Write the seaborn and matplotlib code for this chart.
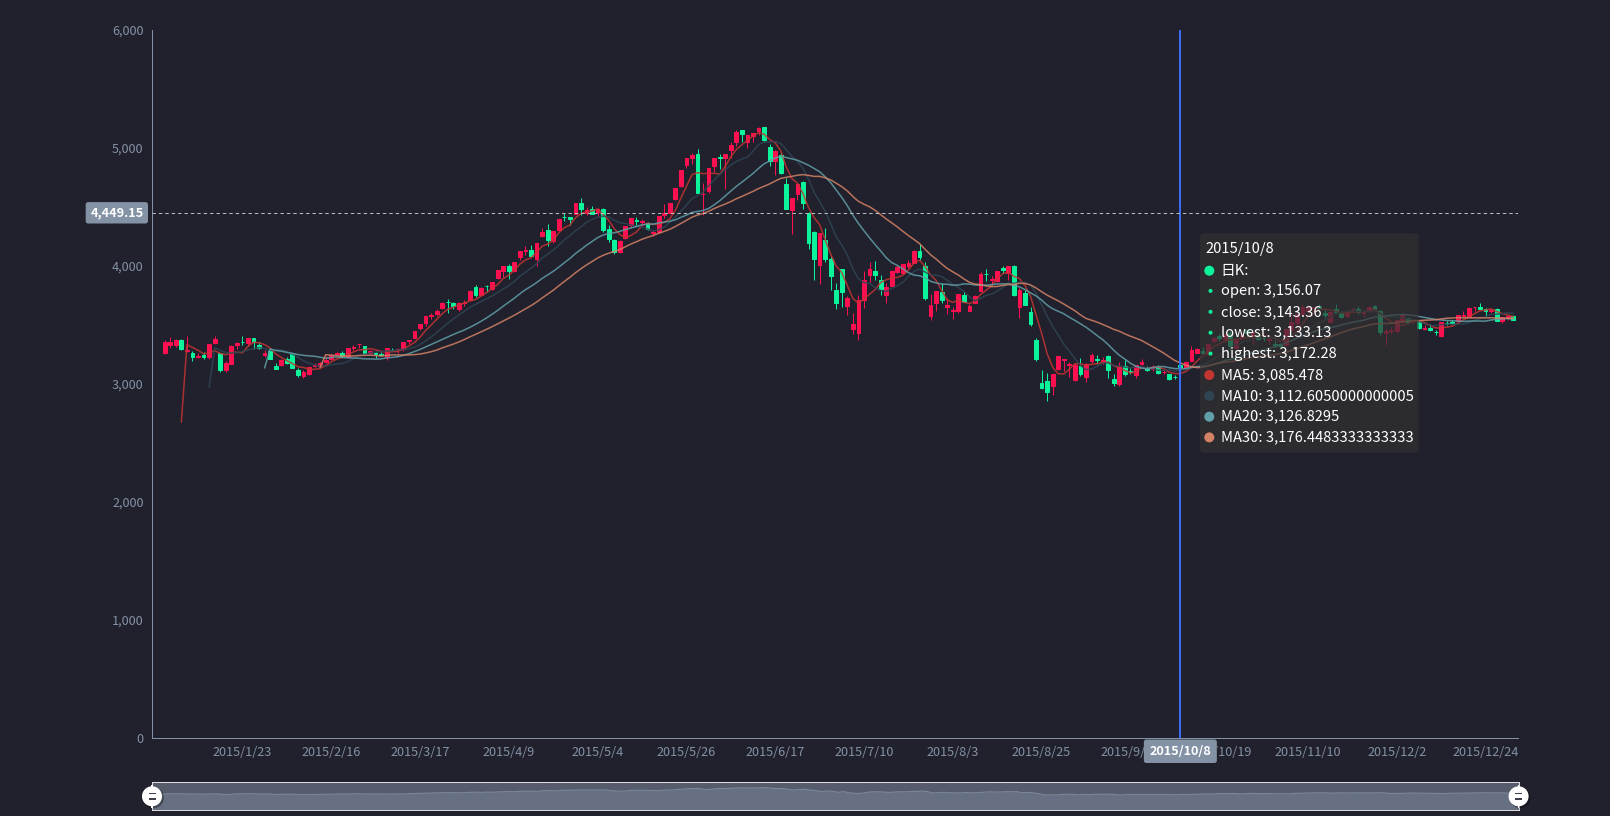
import matplotlib
matplotlib.use('Agg')
import numpy as np
import pandas as pd
import matplotlib.pyplot as plt
import seaborn as sns
from matplotlib.patches import FancyBboxPatch, Rectangle, Circle

# ---------------- data (Shanghai index 2015, daily K) ----------------
trading_days = {
    1: [5, 6, 7, 8, 9, 12, 13, 14, 15, 16, 19, 20, 21, 22, 23, 26, 27, 28, 29, 30],
    2: [2, 3, 4, 5, 6, 9, 10, 11, 12, 13, 16, 17, 25, 26, 27],
    3: [2, 3, 4, 5, 6, 9, 10, 11, 12, 13, 16, 17, 18, 19, 20, 23, 24, 25, 26, 27, 30, 31],
    4: [1, 2, 3, 7, 8, 9, 10, 13, 14, 15, 16, 17, 20, 21, 22, 23, 24, 27, 28, 29, 30],
    5: [4, 5, 6, 7, 8, 11, 12, 13, 14, 15, 18, 19, 20, 21, 22, 25, 26, 27, 28, 29],
    6: [1, 2, 3, 4, 5, 8, 9, 10, 11, 12, 15, 16, 17, 18, 19, 23, 24, 25, 26, 29, 30],
    7: [1, 2, 3, 6, 7, 8, 9, 10, 13, 14, 15, 16, 17, 20, 21, 22, 23, 24, 27, 28, 29, 30, 31],
    8: [3, 4, 5, 6, 7, 10, 11, 12, 13, 14, 17, 18, 19, 20, 21, 24, 25, 26, 27, 28, 31],
    9: [1, 2, 7, 8, 9, 10, 11, 14, 15, 16, 17, 18, 21, 22, 23, 24, 25, 28, 29, 30],
    10: [8, 9, 12, 13, 14, 15, 16, 19, 20, 21, 22, 23, 26, 27, 28, 29, 30],
    11: [2, 3, 4, 5, 6, 9, 10, 11, 12, 13, 16, 17, 18, 19, 20, 23, 24, 25, 26, 27, 30],
    12: [1, 2, 3, 4, 7, 8, 9, 10, 11, 14, 15, 16, 17, 18, 21, 22, 23, 24, 25, 28, 29, 30, 31],
}
# two empty leading entries (drawn as zero candles in the source chart)
dates = ['', ''] + ['2015/%d/%d' % (m, d) for m in range(1, 13) for d in trading_days[m]]

open_ = [0, 0,
    3258.63, 3330.80, 3326.65, 3371.96, 3276.97, 3258.21, 3223.54, 3242.34, 3224.07, 3343.60, 3258.00, 3114.56, 3171.15, 3327.32, 3357.10, 3347.26, 3385.36, 3325.72, 3245.80, 3273.75,
    3148.14, 3156.09, 3212.82, 3251.21, 3120.09, 3063.51, 3084.30, 3146.00, 3153.59, 3186.81, 3206.14, 3254.04, 3259.26, 3228.51, 3302.73,
    3332.72, 3317.70, 3264.18, 3264.08, 3248.04, 3224.31, 3289.08, 3289.29, 3290.41, 3359.26, 3391.16, 3469.61, 3510.50, 3576.02, 3587.08, 3640.10, 3692.57, 3680.08, 3632.72, 3686.14, 3710.61, 3822.96,
    3748.34, 3827.70, 3803.14, 3899.65, 3950.94, 3997.39, 3952.07, 4072.72, 4125.25, 4135.65, 4056.46, 4254.70, 4301.35, 4212.19, 4304.77, 4414.69, 4411.02, 4441.34, 4527.40, 4449.34, 4483.00,
    4455.15, 4479.85, 4311.24, 4220.06, 4116.70, 4237.49, 4343.75, 4391.48, 4372.73, 4362.33, 4277.40, 4285.81, 4426.60, 4444.27, 4568.47, 4673.65, 4854.85, 4914.42, 4943.74, 4603.48,
    4633.10, 4844.70, 4924.06, 4912.95, 4982.22, 5045.68, 5145.98, 5049.20, 5101.44, 5143.34, 5174.42, 5004.88, 4890.31, 4940.74, 4689.93, 4471.61, 4604.67, 4711.76, 4446.00, 4289.77, 4006.75,
    4214.15, 4058.62, 3793.75, 3975.21, 3654.78, 3467.40, 3432.45, 3707.46, 3920.52, 3957.81, 3879.32, 3751.39, 3829.00, 3950.00, 3935.50, 3995.00, 4023.31, 4127.00, 3995.00, 3573.14, 3680.00, 3780.00, 3650.00,
    3614.23, 3614.62, 3751.00, 3620.00, 3683.88, 3786.55, 3929.50, 3876.34, 3866.80, 3976.82, 3936.79, 4000.17, 3646.80, 3767.47, 3609.96, 3373.48, 3004.17, 3025.73, 2978.03, 3125.79, 3203.18,
    3157.83, 3027.68, 3149.38, 3054.44, 3190.35, 3207.59, 3189.48, 3237.22, 3041.01, 2998.22, 3149.48, 3105.72, 3072.80, 3167.41, 3135.47, 3125.37, 3142.65, 3097.00, 3079.16, 3052.84,
    3156.07, 3145.30, 3193.57, 3262.46, 3279.48, 3254.38, 3361.35, 3401.21, 3376.42, 3426.85, 3302.74, 3389.29, 3454.17, 3411.16, 3414.34, 3389.95, 3372.06,
    3337.43, 3333.67, 3325.61, 3459.22, 3514.45, 3588.50, 3617.12, 3640.52, 3654.83, 3600.75, 3522.50, 3629.98, 3605.06, 3573.96, 3620.79, 3630.87, 3602.89, 3614.06, 3659.57, 3616.54, 3433.69,
    3442.44, 3450.28, 3525.73, 3558.15, 3529.81, 3518.65, 3462.58, 3469.81, 3441.60, 3403.51, 3518.13, 3522.09, 3533.63, 3574.94, 3568.58, 3645.99, 3653.28, 3631.31, 3614.05, 3635.77, 3528.40, 3566.73, 3570.47,
]
close = [0, 0,
    3350.52, 3351.45, 3373.95, 3293.46, 3285.41, 3229.32, 3235.30, 3222.44, 3336.45, 3376.50, 3116.35, 3173.05, 3323.61, 3343.34, 3351.76, 3383.18, 3352.96, 3305.74, 3262.31, 3210.36,
    3128.30, 3204.91, 3174.13, 3136.53, 3075.91, 3095.12, 3141.59, 3157.70, 3173.42, 3203.83, 3246.91, 3261.62, 3228.84, 3298.36, 3310.30,
    3336.28, 3263.05, 3279.53, 3248.48, 3241.19, 3302.41, 3286.07, 3290.90, 3349.32, 3372.91, 3449.30, 3502.85, 3577.30, 3582.27, 3617.32, 3687.73, 3691.41, 3660.73, 3682.09, 3691.10, 3786.57, 3747.90,
    3810.29, 3825.78, 3863.93, 3961.38, 3994.81, 3957.53, 4034.31, 4121.71, 4135.57, 4084.16, 4194.82, 4287.30, 4217.08, 4293.62, 4398.49, 4414.51, 4393.69, 4527.40, 4476.62, 4476.21, 4441.66,
    4480.46, 4298.71, 4229.27, 4112.21, 4205.92, 4333.58, 4401.22, 4375.76, 4378.31, 4308.69, 4283.49, 4417.55, 4446.29, 4529.42, 4657.60, 4813.80, 4910.90, 4941.71, 4620.27, 4611.74,
    4828.74, 4910.53, 4909.98, 4947.10, 5023.10, 5131.88, 5113.53, 5106.04, 5121.59, 5166.35, 5062.99, 4887.43, 4967.90, 4785.36, 4478.36, 4576.49, 4690.15, 4527.78, 4192.87, 4053.03, 4277.22,
    4053.70, 3912.77, 3686.92, 3775.91, 3727.12, 3507.19, 3709.33, 3877.80, 3970.39, 3924.49, 3805.70, 3823.18, 3957.35, 3992.11, 4017.67, 4026.04, 4123.92, 4070.91, 3725.56, 3663.00, 3789.17, 3705.77, 3663.73,
    3622.91, 3756.55, 3694.57, 3661.54, 3744.20, 3928.42, 3927.91, 3886.32, 3954.56, 3965.33, 3993.67, 3748.16, 3794.11, 3664.29, 3507.74, 3209.91, 2964.97, 2927.29, 3083.59, 3232.35, 3205.99,
    3166.62, 3160.17, 3080.42, 3170.45, 3243.09, 3197.89, 3200.23, 3114.80, 3005.17, 3152.26, 3086.06, 3097.92, 3156.54, 3185.62, 3115.89, 3142.69, 3092.35, 3100.76, 3038.14, 3052.78,
    3143.36, 3183.15, 3287.66, 3293.23, 3262.44, 3338.07, 3391.35, 3386.70, 3425.33, 3320.68, 3368.74, 3412.43, 3429.58, 3434.34, 3375.20, 3387.32, 3382.56,
    3325.08, 3316.70, 3459.64, 3522.82, 3590.03, 3646.88, 3640.49, 3650.25, 3632.90, 3580.84, 3606.96, 3604.80, 3568.47, 3617.06, 3630.50, 3610.31, 3616.11, 3647.93, 3635.55, 3436.30, 3445.40,
    3456.31, 3536.91, 3584.82, 3524.99, 3536.93, 3470.07, 3472.44, 3455.50, 3434.58, 3520.67, 3510.35, 3516.19, 3580.00, 3578.96, 3642.47, 3651.77, 3636.09, 3612.49, 3627.91, 3533.78, 3563.74, 3572.88, 3539.18,
]
low = [0, 0,
    3253.88, 3303.18, 3312.21, 3285.09, 3267.51, 3191.58, 3214.41, 3208.37, 3207.55, 3339.94, 3095.07, 3100.48, 3169.16, 3293.98, 3329.63, 3321.04, 3297.52, 3294.65, 3222.96, 3209.46,
    3122.57, 3151.51, 3171.14, 3135.04, 3052.94, 3049.11, 3075.46, 3143.11, 3142.66, 3182.15, 3204.85, 3242.86, 3226.26, 3215.56, 3287.10,
    3298.67, 3260.43, 3250.48, 3221.67, 3234.35, 3198.75, 3277.89, 3263.76, 3276.97, 3336.89, 3384.49, 3455.53, 3493.09, 3548.85, 3573.29, 3635.85, 3600.32, 3636.94, 3615.17, 3656.81, 3704.25, 3737.04,
    3742.21, 3779.28, 3792.83, 3891.14, 3903.74, 3887.15, 3944.41, 4050.24, 4091.22, 4069.58, 4001.27, 4240.97, 4165.64, 4195.05, 4297.51, 4380.02, 4348.48, 4435.96, 4432.90, 4426.83, 4441.17,
    4410.33, 4285.82, 4197.38, 4099.33, 4110.40, 4229.13, 4317.24, 4337.80, 4353.39, 4301.60, 4250.05, 4276.44, 4404.56, 4435.37, 4560.84, 4668.86, 4826.64, 4863.02, 4614.24, 4431.51,
    4616.43, 4797.55, 4822.41, 4647.51, 4913.41, 5016.45, 5049.21, 5001.49, 5050.91, 5103.40, 5048.74, 4842.11, 4767.22, 4780.87, 4476.50, 4264.77, 4552.59, 4483.07, 4139.53, 3875.05, 3847.88,
    4031.28, 3795.25, 3629.56, 3653.07, 3585.96, 3421.53, 3373.54, 3643.04, 3861.51, 3875.28, 3752.84, 3680.00, 3817.97, 3941.00, 3930.00, 3981.06, 4022.42, 4049.65, 3712.58, 3537.36, 3620.00, 3687.45, 3591.79,
    3549.14, 3598.21, 3690.94, 3616.38, 3683.88, 3783.13, 3870.43, 3844.50, 3860.71, 3942.20, 3878.20, 3743.03, 3558.38, 3663.11, 3490.54, 3191.88, 2952.01, 2850.71, 2906.42, 3116.13, 3109.17,
    3053.70, 3019.12, 3066.30, 3011.12, 3178.64, 3169.10, 3163.42, 3049.17, 2983.92, 2983.54, 3066.68, 3081.07, 3049.86, 3159.74, 3104.61, 3109.70, 3078.59, 3081.55, 3031.09, 3039.96,
    3133.13, 3134.44, 3193.57, 3258.72, 3257.60, 3250.38, 3343.97, 3357.66, 3357.44, 3283.48, 3292.14, 3372.11, 3398.92, 3336.85, 3366.48, 3364.32, 3339.13,
    3310.77, 3308.41, 3322.41, 3455.30, 3491.34, 3588.50, 3610.41, 3617.93, 3619.66, 3560.23, 3519.41, 3597.69, 3558.70, 3561.07, 3606.94, 3591.33, 3566.80, 3607.43, 3629.86, 3412.43, 3327.81,
    3417.32, 3427.66, 3517.23, 3510.41, 3506.62, 3466.79, 3454.88, 3446.27, 3410.92, 3399.28, 3496.85, 3506.29, 3533.63, 3568.16, 3565.75, 3616.87, 3633.03, 3572.28, 3601.74, 3533.78, 3515.52, 3538.11, 3538.35,
]
high = [0, 0,
    3369.28, 3394.22, 3374.90, 3381.57, 3404.83, 3275.19, 3259.39, 3268.48, 3337.08, 3400.53, 3262.21, 3190.25, 3326.50, 3352.00, 3406.79, 3384.80, 3386.24, 3354.23, 3286.79, 3288.50,
    3175.71, 3207.50, 3226.04, 3251.21, 3129.80, 3119.04, 3142.49, 3171.25, 3181.76, 3237.16, 3248.03, 3268.96, 3276.17, 3298.58, 3324.55,
    3336.76, 3317.70, 3286.59, 3266.93, 3265.75, 3303.98, 3305.96, 3305.05, 3349.32, 3373.38, 3449.30, 3503.38, 3577.66, 3600.68, 3632.34, 3688.25, 3715.87, 3693.35, 3692.25, 3710.48, 3795.94, 3835.57,
    3817.08, 3835.52, 3864.95, 3961.38, 4000.17, 4016.93, 4034.49, 4128.07, 4168.35, 4175.49, 4195.19, 4317.22, 4356.94, 4293.62, 4398.49, 4444.41, 4416.82, 4529.73, 4572.39, 4499.77, 4507.00,
    4488.68, 4488.78, 4341.50, 4230.48, 4214.10, 4334.68, 4401.22, 4408.77, 4394.22, 4370.79, 4304.96, 4417.55, 4520.88, 4529.42, 4658.27, 4814.67, 4911.10, 4958.16, 4986.50, 4698.19,
    4829.50, 4911.40, 4942.81, 4947.10, 5051.63, 5146.95, 5147.45, 5111.18, 5122.47, 5178.19, 5176.79, 5029.68, 4983.67, 4966.28, 4744.08, 4577.94, 4691.77, 4720.74, 4456.89, 4297.47, 4279.56,
    4317.05, 4080.12, 3850.00, 3975.21, 3740.00, 3597.30, 3748.48, 3959.22, 4030.19, 4037.47, 3919.15, 3854.91, 3961.33, 4009.75, 4017.69, 4046.81, 4132.61, 4184.45, 4030.00, 3757.36, 3789.17, 3853.00, 3722.30,
    3648.71, 3757.96, 3782.35, 3679.23, 3751.44, 3943.11, 3970.34, 3915.60, 3955.20, 3994.67, 3993.67, 4006.34, 3811.28, 3790.30, 3652.84, 3388.36, 3120.00, 3092.04, 3085.42, 3233.86, 3207.70,
    3180.47, 3172.74, 3217.53, 3174.71, 3256.74, 3243.28, 3223.76, 3239.07, 3081.82, 3182.93, 3200.96, 3137.01, 3157.53, 3213.48, 3151.20, 3158.45, 3162.39, 3114.94, 3080.12, 3073.30,
    3172.28, 3192.97, 3318.71, 3298.67, 3312.11, 3338.70, 3393.79, 3421.46, 3425.33, 3447.97, 3369.47, 3442.30, 3457.42, 3447.40, 3437.44, 3409.79, 3400.72,
    3374.06, 3346.85, 3459.64, 3585.66, 3596.38, 3673.76, 3659.95, 3653.06, 3678.27, 3630.99, 3607.26, 3678.63, 3618.21, 3617.40, 3640.53, 3654.75, 3622.00, 3648.37, 3668.38, 3621.90, 3470.37,
    3483.41, 3538.85, 3591.73, 3568.97, 3543.95, 3518.65, 3495.70, 3503.65, 3455.55, 3521.78, 3529.96, 3538.69, 3583.41, 3614.70, 3651.06, 3652.63, 3684.57, 3640.22, 3635.26, 3641.59, 3564.17, 3573.68, 3580.60,
]
ma_periods = [5, 10, 20, 30]
y_ticks = [0, 1000, 2000, 3000, 4000, 5000, 6000]
label_every = 16
hover_date = '2015/10/8'
pointer_value = 4449.15

# ---------------- style ----------------
BG = '#21202D'
UP, DOWN = '#FD1050', '#0CF49B'
AXIS = '#8392A5'
MA_COLORS = {'MA5': '#c23531', 'MA10': '#2f4554', 'MA20': '#61a0a8', 'MA30': '#d48265'}
PX = 0.72  # points per pixel at dpi 100

sns.set_theme(style='dark')
plt.rcParams['font.family'] = ['Noto Sans CJK SC', 'DejaVu Sans']
plt.rcParams['axes.unicode_minus'] = False

W, H = 1610, 816
fig = plt.figure(figsize=(W / 100, H / 100), dpi=100, facecolor=BG)

x0_px, x1_px, ytop_px, ybot_px = 152.0, 1517.5, 29.7, 737.7
ax = fig.add_axes([x0_px / W, 1 - ybot_px / H, (x1_px - x0_px) / W, (ybot_px - ytop_px) / H])
ax.set_facecolor(BG)

n = len(dates)
xi = np.arange(n)
o = np.array(open_, float); c = np.array(close, float)
lo = np.array(low, float); hi = np.array(high, float)
cols = np.where(c >= o, UP, DOWN)

# candles
ax.vlines(xi, lo, hi, colors=cols, linewidth=1.0 * PX, zorder=2)
ax.bar(xi, np.abs(c - o), bottom=np.minimum(o, c), width=0.68, color=cols,
       edgecolor=cols, linewidth=1.0 * PX, zorder=2)

# moving averages (same accumulation order as the source chart)
def calc_ma(k):
    res = []
    for i in range(n):
        if i < k:
            res.append(np.nan)
            continue
        s = 0
        for j in range(k):
            s += close[i - j]
        res.append(s / k)
    return res

ma = {'MA%d' % k: calc_ma(k) for k in ma_periods}
ma_df = pd.concat([pd.DataFrame({'idx': xi, 'value': v, 'name': name}) for name, v in ma.items()])
ma_df = ma_df.dropna()
sns.lineplot(data=ma_df, x='idx', y='value', hue='name', palette=MA_COLORS, ax=ax,
             legend=False, linewidth=1.1, alpha=0.85, estimator=None, sort=False, zorder=3)

step_px = 5.55
first_px = 153.6
ax.set_xlim(-(first_px - x0_px) / step_px, (x1_px - first_px) / step_px)
ax.set_ylim(0, 6000)

for s in ['top', 'right']:
    ax.spines[s].set_visible(False)
for s in ['left', 'bottom']:
    ax.spines[s].set_color(AXIS)
    ax.spines[s].set_linewidth(1.0 * PX)
ax.grid(False)
ax.set_yticks(y_ticks)
ax.set_yticklabels(['{:,}'.format(v) for v in y_ticks])
lab_idx = list(range(label_every, n, label_every))
ax.set_xticks(lab_idx)
ax.set_xticklabels([dates[i] for i in lab_idx])
ax.set_xticks([ax.get_xlim()[1]], minor=True)
ax.tick_params(axis='both', colors=AXIS, labelcolor=AXIS, labelsize=12.7 * PX,
               length=5 * PX, width=1.0 * PX, direction='out')
ax.tick_params(axis='x', which='minor', length=5 * PX, width=1.0 * PX, colors=AXIS)
ax.tick_params(axis='y', pad=2.4)
ax.tick_params(axis='x', pad=2.2)
ax.set_xlabel(''); ax.set_ylabel('')

# crosshair
hi_idx = dates.index(hover_date)
ax.axvline(hi_idx, color='#376df4', linewidth=2 * PX, zorder=5)
ax.axhline(pointer_value, color='#bdbdbd', linewidth=1.0 * PX, dashes=(3.4, 3.0), zorder=5)

# x pointer label box geometry (pixels)
xlab_x = first_px + hi_idx * step_px
xbox_l, xbox_r = xlab_x - 36.5, xlab_x + 36.5

# tick labels partly hidden behind the pointer label box
for tl in ax.get_xticklabels():
    t = tl.get_text()
    if t == dates[hi_idx - 9]:
        tl.set_clip_path(Rectangle((0, 0), xbox_l / W, 1, transform=fig.transFigure))
    elif t == dates[hi_idx + 7]:
        tl.set_clip_path(Rectangle((xbox_r / W, 0), 1 - xbox_r / W, 1, transform=fig.transFigure))

# ---------------- dataZoom slider ----------------
dz_l, dz_r, dz_t, dz_b = 152.0, 1518.6, 782.4, 810.2
dz = fig.add_axes([dz_l / W, 1 - dz_b / H, (dz_r - dz_l) / W, (dz_b - dz_t) / H])
ext = (min(open_), max(open_))
off = (ext[1] - ext[0]) * 0.3
dz.set_xlim(0, n - 1)
dz.set_ylim(ext[0] - off, ext[1] + off)
dz.set_facecolor(BG)
dz.fill_between(xi, o, ext[0] - off, color=AXIS, alpha=0.3, linewidth=0)
sns.lineplot(x=xi, y=o, ax=dz, color=AXIS, alpha=0.8, linewidth=0.8, estimator=None)
dz.axvspan(0, n - 1, color=(167 / 255, 183 / 255, 204 / 255), alpha=0.4, linewidth=0)
dz.set_xticks([]); dz.set_yticks([])
dz.set_xlabel(''); dz.set_ylabel('')
for s in dz.spines.values():
    s.set_color('#dddddd'); s.set_linewidth(1.0 * PX)

# ---------------- overlay (pixel coords) ----------------
ov = fig.add_axes([0, 0, 1, 1], zorder=10)
ov.set_xlim(0, W); ov.set_ylim(H, 0)
ov.axis('off'); ov.patch.set_alpha(0)

# slider handles
for hx in (dz_l, dz_r):
    hy = (dz_t + dz_b) / 2
    ov.add_patch(Circle((hx + 1.5, hy + 1.5), 10.4, fc=(0, 0, 0, 0.35), ec='none'))
    ov.add_patch(Circle((hx, hy), 10.0, fc='white', ec='none'))
    ov.add_patch(Rectangle((hx - 0.75, hy - 11.4), 1.5, 1.6, fc='white', ec='none'))
    ov.add_patch(Rectangle((hx - 0.75, hy + 9.8), 1.5, 1.6, fc='white', ec='none'))
    for dy in (-2.6, 2.6):
        ov.add_patch(Rectangle((hx - 3.5, hy + dy - 0.75), 7.0, 1.5, fc='#3c3f4c', ec='none'))

# y pointer label
ylab_y = ytop_px + (6000 - pointer_value) / 6000 * (ybot_px - ytop_px)
ov.add_patch(FancyBboxPatch((85.7, ylab_y - 10.6), 62.3, 21.4,
                            boxstyle='round,pad=0,rounding_size=2.5', fc=AXIS, ec='none'))
ov.text(117.0, ylab_y, '{:,.2f}'.format(pointer_value), color='white', fontsize=12.7 * PX,
        ha='center', va='center', fontweight='bold')

# x pointer label
ov.add_patch(FancyBboxPatch((xbox_l, 739.5), xbox_r - xbox_l, 23.5,
                            boxstyle='round,pad=0,rounding_size=2.5', fc=AXIS, ec='none'))
ov.text(xlab_x, 751.5, hover_date, color='white', fontsize=12.7 * PX,
        ha='center', va='center', fontweight='bold')

# tooltip
def fmt(v):
    s = repr(float(v))
    if s.endswith('.0'):
        s = s[:-2]
    if '.' in s:
        ip, fp = s.split('.')
        return '{:,}.{}'.format(int(ip), fp)
    return '{:,}'.format(int(s))

tx, ty, tw, th = 1200.0, 233.3, 218.7, 219.4
ov.add_patch(FancyBboxPatch((tx, ty), tw, th, boxstyle='round,pad=0,rounding_size=4',
                            fc=(50 / 255, 50 / 255, 50 / 255, 0.7), ec='none'))
TXT = '#ffffff'
fs = 14.7 * PX
ov.text(1205.0, 249.0, hover_date, color=TXT, fontsize=fs, ha='left', va='center')
kcol = UP if close[hi_idx] >= open_[hi_idx] else DOWN
rows = [('big', kcol, '日K:'),
        ('small', kcol, 'open: ' + fmt(open_[hi_idx])),
        ('small', kcol, 'close: ' + fmt(close[hi_idx])),
        ('small', kcol, 'lowest: ' + fmt(low[hi_idx])),
        ('small', kcol, 'highest: ' + fmt(high[hi_idx]))]
for name in ma:
    rows.append(('big', MA_COLORS[name], '%s: %s' % (name, fmt(ma[name][hi_idx]))))
row_y = [270.7, 290.9, 311.8, 332.7, 353.6, 375.0, 395.9, 416.7, 437.4]
for (kind, col, text), yy in zip(rows, row_y):
    if kind == 'big':
        ov.add_patch(Circle((1209.3, yy), 5.0, fc=col, ec='none'))
    else:
        ov.add_patch(Circle((1210.5, yy), 2.0, fc=col, ec='none'))
    ov.text(1220.7, yy, text, color=TXT, fontsize=fs, ha='left', va='center')

fig.savefig('out.png', dpi=100, facecolor=BG)
